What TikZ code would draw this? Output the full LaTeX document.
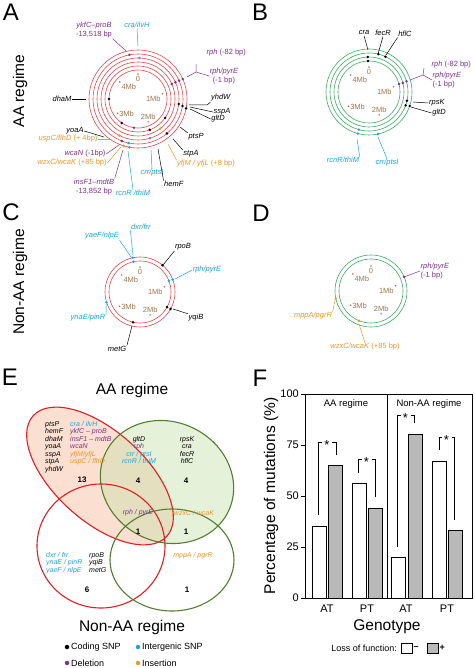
\documentclass[tikz,border=0pt]{standalone}
\usepackage{fontspec}
\setmainfont{Liberation Sans}
\usetikzlibrary{calc}

\definecolor{ringred}{RGB}{232,70,75}
\definecolor{ringgreen}{RGB}{60,170,100}
\definecolor{snppurple}{RGB}{128,50,140}
\definecolor{snpcyan}{RGB}{30,165,220}
\definecolor{snporange}{RGB}{240,150,40}
\definecolor{mbtan}{RGB}{160,120,80}
\definecolor{vennred}{RGB}{225,30,35}
\definecolor{venngreen}{RGB}{85,125,50}
\definecolor{vennfillred}{RGB}{244,175,140}
\definecolor{vennfillgreen}{RGB}{200,225,170}
\definecolor{barg}{RGB}{185,185,185}

% genome position marks inside a ring
\newcommand{\mbticks}[1]{%
  \foreach \ang/\txt/\anc in {-90/0/north, 223/4Mb/north west, -12/1Mb/north east, 145/3Mb/west, 66/2Mb/south}{%
    \fill[mbtan] ($(#1)+(\ang:25)$) circle (0.9pt);
    \node[mblbl, anchor=\anc] (#1-\txt) at ($(#1)+(\ang:25)$) {\txt};
  }}

\begin{document}
\begin{tikzpicture}[x=1pt, y=-1pt,
  panel/.style={font=\fontsize{24}{24}\selectfont, inner sep=0pt},
  regime/.style={font=\fontsize{15.5}{16}\selectfont, inner sep=0pt},
  glbl/.style={font=\fontsize{7.5}{9}\selectfont, inner sep=0.5pt},
  vlbl/.style={font=\fontsize{7}{7.5}\selectfont\itshape, inner sep=0pt, align=left},
  vnum/.style={font=\fontsize{8}{8}\selectfont\bfseries, inner sep=0pt},
  mblbl/.style={font=\fontsize{7.5}{8}\selectfont, text=mbtan, inner sep=1.6pt},
  ring/.style={line width=0.6pt},
  snp/.style={circle, inner sep=0pt, minimum size=2.8pt, fill=black},
  lead/.style={line width=0.5pt},
  venn/.style={line width=1.1pt},
  bar/.style={draw=black, line width=1pt},
  brk/.style={line width=0.6pt},
  sig/.style={font=\fontsize{13}{13}\selectfont, inner sep=0pt},
  axl/.style={font=\fontsize{11}{11}\selectfont, inner sep=1pt},
  keybox/.style={draw, line width=0.7pt, minimum width=11pt, minimum height=10pt, inner sep=0pt},
]
\useasboundingbox (0,0) rectangle (474,668);

%% A: AA regime rings
\node[panel] (A) at (11,12) {A};
\node[regime, rotate=90] (A-reg) at (20,91) {AA regime};
\coordinate (cA) at (138,99);
\foreach \r in {29,33,...,49} \draw[ring, ringred] (cA) circle (\r pt);
\mbticks{cA}
\foreach \ang/\r/\col [count=\i] in {-101/45/snppurple, -88/41/snpcyan, -24/37/snppurple, -24/41/snppurple, -24/45/snppurple, -24/49/snppurple, 7/41/black, 9/45/black, 11/49/black, 180/29/black, 35/33/black, 50/45/black, 69/33/black, 53/37/snporange, 73/41/snpcyan, 102/45/snpcyan, 100/49/snpcyan, 111/45/snppurple, 98/29/snppurple, 107/49/snporange, 117/41/snporange, 124/29/black}
  \node[snp, fill=\col] (A-d\i) at ($(cA)+(\ang:\r)$) {};

\node[glbl, text=snppurple, align=center] (A-ykfC) at (94,30) {\textit{ykfC--proB}\\-13,518 bp};
\node[glbl, text=snpcyan] (A-cra) at (137,25) {\textit{cra/ilvH}};
\node[glbl, text=snppurple, anchor=west] (A-rph82) at (206,53) {\textit{rph} (-82 bp)};
\node[glbl, text=snppurple, align=center] (A-rphpyr) at (224,76) {\textit{rph/pyrE}\\(-1 bp)};
\node[glbl] (A-yhdW) at (221,98) {\textit{yhdW}};
\node[glbl] (A-sspA) at (222,112) {\textit{sspA}};
\node[glbl] (A-gltD) at (218,119) {\textit{gltD}};
\node[glbl] (A-dhaM) at (62,99) {\textit{dhaM}};
\node[glbl] (A-yoaA) at (75,131) {\textit{yoaA}};
\node[glbl, text=snporange] (A-uspC) at (68,139) {\textit{uspC/flhD} (+ 4bp)};
\node[glbl, text=snppurple] (A-wcaN) at (85,154) {\textit{wcaN} (-1bp)};
\node[glbl, text=snporange] (A-wzxC) at (72,163) {\textit{wzxC/wcaK} (+85 bp)};
\node[glbl, text=snppurple, align=center] (A-insF1) at (94,187) {\textit{insF1--mdtB}\\-13,852 bp};
\node[glbl, text=snpcyan] (A-rcnR) at (133,193) {\textit{rcnR /thiM}};
\node[glbl, text=snpcyan] (A-crr) at (152,173) {\textit{crr/ptsI}};
\node[glbl] (A-hemF) at (174,184) {\textit{hemF}};
\node[glbl, text=snporange] (A-yfjM) at (206,164) {\textit{yfjM / yfjL} (+8 bp)};
\node[glbl] (A-stpA) at (191,154) {\textit{stpA}};
\node[glbl] (A-ptsP) at (196,137) {\textit{ptsP}};

\coordinate (A-ykfC-e) at (126,51);
\coordinate (A-cra-e) at (138,46);
\coordinate (A-rph-e) at (187,77);
\coordinate (A-rph-f) at (196,72);
\coordinate (A-yhdW-e) at (189,105);
\coordinate (A-yhdW-k) at (207,105);
\coordinate (A-sspA-e) at (190,107);
\coordinate (A-gltD-e) at (190,109);
\coordinate (A-dhaM-e) at (86,99);
\coordinate (A-yoaA-e) at (104,137);
\coordinate (A-uspC-e) at (110,139);
\coordinate (A-wcaN-e) at (119,145);
\coordinate (A-wzxC-e) at (121,147);
\coordinate (A-insF1-e) at (123,150);
\coordinate (A-rcnR-e) at (128,151);
\coordinate (A-crr-e) at (151,150);
\coordinate (A-hemF-e) at (158,149);
\coordinate (A-yfjM-e) at (168,144);
\coordinate (A-stpA-e) at (173,139);
\coordinate (A-ptsP-e) at (180,127);

\draw[lead, snppurple] (A-ykfC.south east) -- (A-ykfC-e);
\draw[lead, snpcyan] (A-cra.south) -- (A-cra-e);
\draw[lead, snppurple] (A-rph-e) -- (A-rph-f) -- ++(0,-8);
\draw[lead, snppurple] (A-rph-f) -- (A-rphpyr.west);
\draw[lead] (A-yhdW-e) -- (A-yhdW-k) -- (A-yhdW.south west);
\draw[lead] (A-sspA-e) -- (A-sspA.west);
\draw[lead] (A-gltD-e) -- (A-gltD.west);
\draw[lead] (A-dhaM.east) -- (A-dhaM-e);
\draw[lead] (A-yoaA.east) -- (A-yoaA-e);
\draw[lead, snporange] (A-uspC.east) -- (A-uspC-e);
\draw[lead, snppurple] (A-wcaN.east) -- (A-wcaN-e);
\draw[lead, snporange] (A-wzxC.east) -- (A-wzxC-e);
\draw[lead, snppurple] (A-insF1.north east) -- (A-insF1-e);
\draw[lead, snpcyan] (A-rcnR.north) -- (A-rcnR-e);
\draw[lead, snpcyan] (A-crr.north) -- (A-crr-e);
\draw[lead] (A-hemF.north west) -- (A-hemF-e);
\draw[lead, snporange] (A-yfjM.north west) -- (A-yfjM-e);
\draw[lead] (A-stpA.north west) -- (A-stpA-e);
\draw[lead] (A-ptsP.north west) -- (A-ptsP-e);

%% B: AA regime, second set
\node[panel] (B) at (260,12) {B};
\coordinate (cB) at (369,92);
\foreach \r in {31,35,39,43} \draw[ring, ringgreen] (cB) circle (\r pt);
\mbticks{cB}
\foreach \ang/\r/\col [count=\i] in {-92/31/black, -92/35/black, -76/39/black, -65/39/black, -15/31/snppurple, -15/35/snppurple, -16/39/snppurple, 13/39/black, 20/39/black, 19/43/black, 105/39/snpcyan, 105/43/snpcyan, 78/43/snpcyan}
  \node[snp, fill=\col] (B-d\i) at ($(cB)+(\ang:\r)$) {};

\node[glbl] (B-cra) at (364,33) {\textit{cra}};
\node[glbl] (B-fecR) at (383,33) {\textit{fecR}};
\node[glbl] (B-hflC) at (405,34) {\textit{hflC}};
\node[glbl, text=snppurple, anchor=west] (B-rph82) at (431,65) {\textit{rph} (-82 bp)};
\node[glbl, text=snppurple, anchor=west, align=left] (B-rphpyr) at (432,80) {\textit{rph/pyrE}\\(-1 bp)};
\node[glbl] (B-rpsK) at (437,103) {\textit{rpsK}};
\node[glbl] (B-gltD) at (439,113) {\textit{gltD}};
\node[glbl, text=snpcyan] (B-rcnR) at (343,160) {\textit{rcnR/thiM}};
\node[glbl, text=snpcyan] (B-crr) at (387,163) {\textit{crr/ptsI}};

\coordinate (B-cra-e) at (368,50);
\coordinate (B-fecR-e) at (378,54);
\coordinate (B-hflC-e) at (386,55);
\coordinate (B-rph-e) at (410,80);
\coordinate (B-rph-f) at (423,75);
\coordinate (B-rpsK-e) at (413,102);
\coordinate (B-gltD-e) at (411,107);
\coordinate (B-rcnR-e) at (357,139);
\coordinate (B-crr-e) at (378,137);

\draw[lead] (B-cra.south) -- (B-cra-e);
\draw[lead] (B-fecR.south) -- (B-fecR-e);
\draw[lead] (B-hflC.south west) -- (B-hflC-e);
\draw[lead, snppurple] (B-rph-e) -- (B-rph-f) -- ++(1,-7);
\draw[lead, snppurple] (B-rph-f) -- (B-rphpyr.west);
\draw[lead] (B-rpsK-e) -- (B-rpsK.west);
\draw[lead] (B-gltD-e) -- (B-gltD.west);
\draw[lead, snpcyan] (B-rcnR.north east) -- (B-rcnR-e);
\draw[lead, snpcyan] (B-crr.north) -- (B-crr-e);

%% C: Non-AA regime rings
\node[panel] (C) at (11,212) {C};
\node[regime, rotate=90] (C-reg) at (20,282) {Non-AA regime};
\coordinate (cC) at (140,292);
\foreach \r in {31,35} \draw[ring, ringred] (cC) circle (\r pt);
\mbticks{cC}
\foreach \ang/\r/\col [count=\i] in {-102/35/snpcyan, -102/31/snpcyan, -50/35/black, -21/31/snpcyan, -21/35/snpcyan, 29/31/black, 29/35/black, 103/31/black, 163/35/snpcyan}
  \node[snp, fill=\col] (C-d\i) at ($(cC)+(\ang:\r)$) {};

\node[glbl, text=snpcyan] (C-dxr) at (141,227) {\textit{dxr/frr}};
\node[glbl, text=snpcyan] (C-yaeF) at (102,236) {\textit{yaeF/nlpE}};
\node[glbl] (C-rpoB) at (183,247) {\textit{rpoB}};
\node[glbl, text=snpcyan] (C-rph) at (207,270) {\textit{rph/pyrE}};
\node[glbl] (C-yqiB) at (196,318) {\textit{yqiB}};
\node[glbl] (C-metG) at (117,349) {\textit{metG}};
\node[glbl, text=snpcyan] (C-ynaE) at (88,318) {\textit{ynaE/pinR}};

\coordinate (C-dxr-e) at (133,255);
\coordinate (C-yaeF-e) at (131,257);
\coordinate (C-rpoB-e) at (163,265);
\coordinate (C-rph-e) at (175,279);
\coordinate (C-yqiB-e) at (173,309);
\coordinate (C-metG-e) at (132,326);
\coordinate (C-ynaE-e) at (106,304);

\draw[lead, snpcyan] (C-dxr.south west) -- (C-dxr-e);
\draw[lead, snpcyan] (C-yaeF.south east) -- (C-yaeF-e);
\draw[lead] (C-rpoB.south west) -- (C-rpoB-e);
\draw[lead, snpcyan] (C-rph.west) -- (C-rph-e);
\draw[lead] (C-yqiB.north west) -- (C-yqiB-e);
\draw[lead] (C-metG.north east) -- (C-metG-e);
\draw[lead, snpcyan] (C-ynaE.north east) -- (C-ynaE-e);

%% D: Non-AA regime, second set
\node[panel] (D) at (261,213) {D};
\coordinate (cD) at (371,291);
\foreach \r in {32,36} \draw[ring, ringgreen] (cD) circle (\r pt);
\mbticks{cD}
\foreach \ang/\r/\col [count=\i] in {-23/36/snppurple, 168/36/snporange, 112/32/snporange}
  \node[snp, fill=\col] (D-d\i) at ($(cD)+(\ang:\r)$) {};

\node[glbl, text=snppurple, anchor=west, align=left] (D-rph) at (420,271) {\textit{rph/pyrE}\\(-1 bp)};
\node[glbl, text=snporange] (D-mppA) at (313,316) {\textit{mppA/pgrR}};
\node[glbl, text=snporange] (D-wzxC) at (365,347) {\textit{wzxC/wcaK} (+85 bp)};

\coordinate (D-rph-e) at (404,277);
\coordinate (D-mppA-e) at (335,300);
\coordinate (D-wzxC-e) at (359,324);

\draw[lead, snppurple] (D-rph.west) -- (D-rph-e);
\draw[lead, snporange] (D-mppA.north east) -- (D-mppA-e);
\draw[lead, snporange] (D-wzxC.north) -- (D-wzxC-e);

%% E: Venn diagram
\node[panel] (E) at (10,377) {E};
\node[regime] (E-aa) at (132,390) {AA regime};
\node[regime] (E-non) at (132,627) {Non-AA regime};
\fill[vennfillred, opacity=.4, rotate around={-42:(100,476)}] (100,476) ellipse [x radius=90pt, y radius=45pt];
\fill[vennfillgreen, opacity=.45, rotate around={-25:(167,482)}] (167,482) ellipse [x radius=68pt, y radius=60pt];
\draw[venn, vennred, rotate around={-42:(100,476)}] (100,476) ellipse [x radius=90pt, y radius=45pt];
\draw[venn, venngreen, rotate around={-25:(167,482)}] (167,482) ellipse [x radius=68pt, y radius=60pt];
\draw[venn, vennred] (101,546) ellipse [x radius=64pt, y radius=62pt];
\draw[venn, venngreen] (172,560) ellipse [x radius=62pt, y radius=51pt];

\node[vlbl, anchor=north west] (E-c1) at (45,421) {ptsP\\hemF\\dhaM\\yoaA\\sspA\\stpA\\yhdW};
\node[vlbl, anchor=north west] (E-c2) at (70,421) {\textcolor{snpcyan}{cra / ilvH}\\\textcolor{snppurple}{ykfC -- proB}\\\textcolor{snppurple}{insF1 -- mdtB}\\\textcolor{snppurple}{wcaN}\\\textcolor{snporange}{yfjM/yfjL}\\\textcolor{snporange}{uspC / flhD}};
\node[vlbl, anchor=north, align=center] (E-c3) at (139,436) {gltD\\\textcolor{snppurple}{rph}\\\textcolor{snpcyan}{crr / ptsI}\\\textcolor{snpcyan}{rcnR / thiM}};
\node[vlbl, anchor=north, align=center] (E-c4) at (187,436) {rpsK\\cra\\fecR\\hflC};
\node[vlbl, text=snppurple] (E-rph) at (138,513) {rph / pyrE};
\node[vlbl, text=snporange] (E-wzxC) at (194,513) {wzxC / wcaK};
\node[vlbl, anchor=north west, text=snpcyan] (E-c5) at (46,552) {dxr / frr\\ynaE / pinR\\yaeF / nlpE};
\node[vlbl, anchor=north west] (E-c6) at (89,552) {rpoB\\yqiB\\metG};
\node[vlbl, text=snporange] (E-mppA) at (193,556) {mppA / pgrR};
\foreach \x/\y/\n [count=\i] in {82/480/13, 138/481/4, 186/481/4, 138/532/1, 186/532/1, 87/590/6, 187/590/1}
  \node[vnum] (E-n\i) at (\x,\y) {\n};

\foreach \x/\y/\col/\txt [count=\i] in {67/647/black/Coding SNP, 138/647/snpcyan/Intergenic SNP, 67/663/snppurple/Deletion, 138/663/snporange/Insertion}{
  \node[snp, minimum size=4.5pt, fill=\col] (E-k\i) at (\x,\y) {};
  \node[font=\fontsize{9}{9}\selectfont, anchor=west, inner sep=1pt] (E-kt\i) at (\x+3,\y) {\txt};
}

%% F: bar chart
\node[panel] (F) at (260,378) {F};
\draw[line width=0.9pt] (305,394) rectangle (472,598);
\draw[line width=0.9pt] (387,394) -- (387,598);
\foreach \v in {0,25,50,75,100}{
  \draw[line width=0.9pt] (301,{598-2.04*\v}) -- (305,{598-2.04*\v});
  \node[axl, anchor=east] (F-y\v) at (300,{598-2.04*\v}) {\v};
}
\foreach \x/\v/\f in {312/35/white, 328/65/barg, 352/56/white, 368/44/barg, 391/20/white, 408/80/barg, 432/67/white, 448/33/barg}
  \draw[bar, fill=\f] (\x,598) rectangle (\x+14,{598-2.04*\v});
\foreach \xl/\yl/\xr/\yr/\yt [count=\i] in {318/515/336/455/442, 358/473/375/497/459, 397/547/414/423/415, 439/450/454/520/437}{
  \draw[brk] (\xl,\yl) |- ({(\xl+\xr)/2-5},\yt);
  \draw[brk] ({(\xl+\xr)/2+5},\yt) -| (\xr,\yr);
  \node[sig, anchor=base] (F-s\i) at ({(\xl+\xr)/2},{\yt+7}) {*};
}
\node[font=\fontsize{9.5}{10}\selectfont] (F-aa) at (346,404) {AA regime};
\node[font=\fontsize{9.5}{10}\selectfont] (F-non) at (429,404) {Non-AA regime};
\foreach \x/\g [count=\i] in {327/AT, 367/PT, 406/AT, 447/PT}
  \node[axl] (F-x\i) at (\x,609) {\g};
\node[regime] (F-xt) at (387,627) {Genotype};
\node[regime, rotate=90] (F-yt) at (271,496) {Percentage of mutations (\%)};
\node[font=\fontsize{9}{9}\selectfont, anchor=east, inner sep=0pt] (F-lof) at (397,648) {Loss of function:};
\node[keybox, fill=white] (F-kw) at (406.5,648) {};
\node[font=\fontsize{9}{9}\selectfont\bfseries, anchor=west, inner sep=1pt] (F-kwt) at (F-kw.east) {--};
\node[keybox, fill=barg] (F-kg) at (432.5,648) {};
\node[font=\fontsize{9}{9}\selectfont\bfseries, anchor=west, inner sep=1pt] (F-kgt) at (F-kg.east) {+};
\end{tikzpicture}
\end{document}
